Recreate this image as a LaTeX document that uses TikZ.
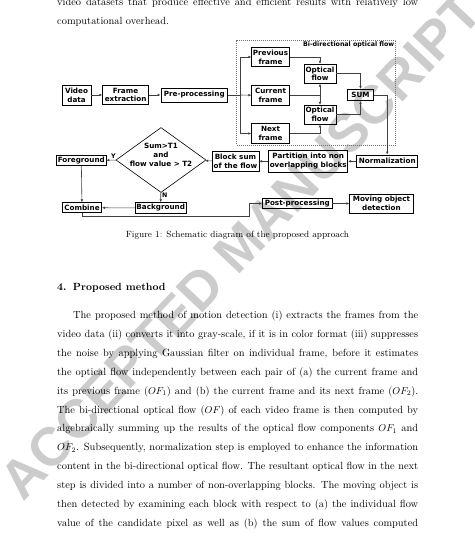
\documentclass[tikz,border=0pt]{standalone}
\usepackage{fontspec}
\usepackage{amsmath}
\usetikzlibrary{shapes.geometric, arrows.meta, positioning, calc}

\newfontfamily\diafont{DejaVu Sans}
\newfontfamily\markfont{Liberation Sans}
\newcommand{\boxfont}{\diafont\bfseries\fontsize{7.2}{8.8}\selectfont}

\begin{document}
\begin{tikzpicture}[
    x=1pt, y=-1pt,
    stage/.style={rectangle, draw=black, line width=0.6pt, font=\boxfont, align=center, inner sep=0.8pt},
    decision/.style={diamond, draw=black, line width=0.6pt, minimum width=90pt, minimum height=65pt, inner sep=0pt},
    dectext/.style={font=\boxfont, align=center, inner sep=0pt, yshift=5pt},
    flowgroup/.style={draw=black!55, line width=0.5pt, dash pattern=on 1.2pt off 0.8pt, inner sep=0pt},
    link/.style={draw=black!75, line width=0.6pt},
    arrow/.style={link, -{Latex[length=3pt,width=2.6pt]}},
    biarrow/.style={link, {Latex[length=3pt,width=2.6pt]}-{Latex[length=3pt,width=2.6pt]}},
    yn/.style={font=\diafont\bfseries\fontsize{6.3}{7}\selectfont, inner sep=1pt},
    bodytext/.style={font=\fontsize{10.4}{18.87}\selectfont, text width=361pt, align=justify, inner sep=0pt, anchor=base west},
]
    \useasboundingbox (0,0) rectangle (474,540);
    \clip (0,0) rectangle (474,540);

    % watermark
    \node (watermark) [rotate=46.6, text=black!20, font=\markfont\bfseries\fontsize{54}{54}\selectfont]
      at (241,246) {ACCEPTED MANUSCRIPT};

    % end of previous paragraph
    \node (prev_text) [bodytext] at (57,5.6)
      {\hyphenpenalty=10000 \exhyphenpenalty=10000 \tolerance=9999
       video datasets that produce effective and efficient results with relatively low\linebreak
       computational overhead.};

    % input and preprocessing
    \node (video_data) [stage, minimum width=29pt, minimum height=20pt] at (76.5,95) {Video\\data};
    \node (frame_ext) [stage, minimum width=46pt, minimum height=19.5pt, right=11pt of video_data] {Frame\\extraction};
    \node (pre_proc) [stage, minimum width=66.7pt, minimum height=14pt, right=11.7pt of frame_ext] {Pre-processing};

    % bi-directional optical flow
    \node (bidir) [flowgroup, minimum width=159pt, minimum height=105pt] at (316.2,92.5) {};
    \node (bidir_title) [anchor=north east, inner sep=1.5pt, font=\diafont\bfseries\fontsize{6.3}{7}\selectfont]
      at (bidir.north east) {Bi-directional optical flow};

    \node (prev_frame) [stage, minimum width=37.6pt, minimum height=19.4pt] at (270.5,57) {Previous\\frame};
    \node (cur_frame) [stage, minimum width=37.6pt, minimum height=20pt, below=18.3pt of prev_frame] {Current\\frame};
    \node (next_frame) [stage, minimum width=37.6pt, minimum height=20pt, below=17.3pt of cur_frame] {Next\\frame};

    \node (of_prev) [stage, minimum width=32pt, minimum height=19pt] at (320,73.8) {Optical\\flow};
    \node (of_next) [stage, minimum width=32pt, minimum height=19pt] at (320,114.7) {Optical\\flow};
    \node (sum_node) [stage, minimum width=25.6pt, minimum height=11.4pt] at (360.5,95) {SUM};

    % blocks and decision
    \node (norm) [stage, minimum width=61pt, minimum height=12.7pt] at (387.2,161.3) {Normalization};
    \node (partition) [stage, minimum width=79pt, minimum height=21pt, left=8.4pt of norm] {Partition into non\\overlapping blocks};
    \node (block_sum) [stage, minimum width=46.7pt, minimum height=20pt, left=9.3pt of partition] {Block sum\\of the flow};
    \node (decision) [decision, label={[dectext]center:{Sum>T1\\and\\flow value > T2}}] at (161,160) {};

    \node (foreground) [stage, minimum width=49.3pt, minimum height=10pt] at (81.3,160.3) {Foreground};
    \node (background) [stage, minimum width=50.7pt, minimum height=10.7pt] at (160.7,208) {Background};
    \node (combine) [stage, minimum width=39.4pt, minimum height=10pt] at (82,207.7) {Combine};

    % output
    \node (post_proc) [stage, minimum width=69.7pt, minimum height=10.5pt] at (297.3,203.5) {Post-processing};
    \node (moving_obj) [stage, minimum width=63.4pt, minimum height=18.7pt, right=17pt of post_proc] {Moving object\\detection};

    \coordinate (split) at (240,95);
    \coordinate (turn) at (249.3,216.7);

    \draw [arrow] (video_data) -- (frame_ext);
    \draw [arrow] (frame_ext) -- (pre_proc);
    \draw [link] (pre_proc) -- (split);
    \draw [arrow] (split) |- (prev_frame);
    \draw [arrow] (split) -- (cur_frame);
    \draw [arrow] (split) |- (next_frame);
    \draw [arrow] (prev_frame) -| (of_prev);
    \draw [arrow] (next_frame) -| (of_next);
    \draw [link] (cur_frame) -- (cur_frame -| of_prev);
    \draw [biarrow] (of_prev) -- (of_next);
    \draw [arrow] (of_prev) -| (sum_node);
    \draw [arrow] (of_next) -| (sum_node);
    \draw [arrow] (sum_node) -| (norm);
    \draw [arrow] (norm) -- (partition);
    \draw [arrow] (partition) -- (block_sum);
    \draw [arrow] (block_sum) -- (decision);
    \draw [arrow] (decision) -- node [yn, above, near start] {Y} (foreground);
    \draw [arrow] (decision) -- node [yn, right, pos=0.3] {N} (background);
    \draw [arrow] (foreground) -- (combine);
    \draw [arrow] (background) -- (combine);
    \draw [arrow] (combine) |- (turn) |- (post_proc);
    \draw [arrow] (post_proc) -- (moving_obj);

    % caption and section text
    \node (caption) [anchor=base, font=\fontsize{9}{11}\selectfont] at (237.5,237.5)
      {Figure 1: Schematic diagram of the proposed approach};
    \node (heading) [anchor=base west, inner sep=0pt, font=\fontsize{10.4}{12}\selectfont\bfseries] at (57,290.5)
      {4.\hspace{6.5pt}Proposed method};

    \node (method_text) [bodytext] at (57,318.7)
      {\hyphenpenalty=10000 \exhyphenpenalty=10000 \tolerance=9999
       \hspace*{16pt}The proposed method of motion detection (i) extracts the frames from the\linebreak
       video data (ii) converts it into gray-scale, if it is in color format (iii) suppresses\linebreak
       the noise by applying Gaussian filter on individual frame, before it estimates\linebreak
       the optical flow independently between each pair of (a) the current frame and\linebreak
       its previous frame ($OF_1$) and (b) the current frame and its next frame ($OF_2$).\linebreak
       The bi-directional optical flow ($OF$) of each video frame is then computed by\linebreak
       algebraically summing up the results of the optical flow components $OF_1$ and\linebreak
       $OF_2$. Subsequently, normalization step is employed to enhance the information\linebreak
       content in the bi-directional optical flow. The resultant optical flow in the next\linebreak
       step is divided into a number of non-overlapping blocks. The moving object is\linebreak
       then detected by examining each block with respect to (a) the individual flow\linebreak
       value of the candidate pixel as well as (b) the sum of flow values computed\linebreak\mbox{}};

\end{tikzpicture}
\end{document}
